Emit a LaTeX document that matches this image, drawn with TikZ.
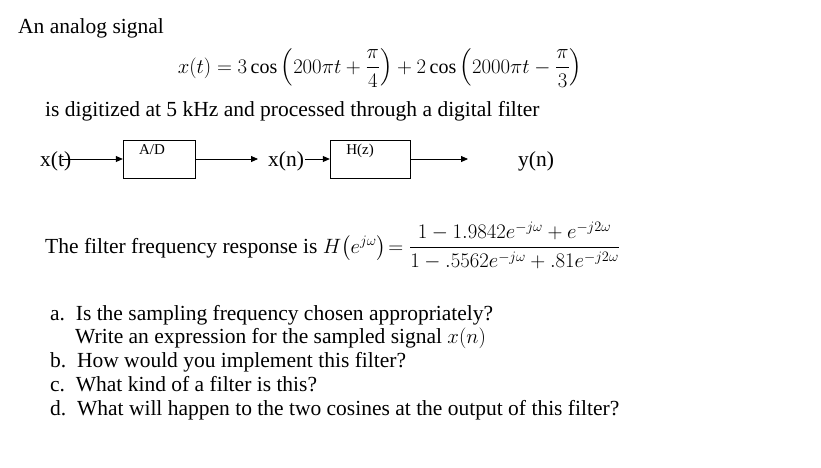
\documentclass[tikz,border=0pt]{standalone}
\usepackage{amsmath}
\usepackage{fontspec}
\setmainfont{Liberation Serif}
\usetikzlibrary{arrows.meta}
\begin{document}
\begin{tikzpicture}[x=1pt,y=-1pt,
 t/.style={anchor=base west,inner sep=0pt,font=\fontsize{21.5}{24}\selectfont},
 blk/.style={draw,minimum width=72pt,minimum height=38pt,inner sep=0pt},
 arr/.style={-{Triangle[length=7pt,width=6pt]},line width=0.8pt}]
\useasboundingbox (0,0) rectangle (821,467);
\node[t] (title) at (18,33) {An analog signal};
\node[anchor=base,inner sep=0pt,font=\fontsize{20}{22}\selectfont] (xt) at (380,73)
 {$x(t)=3\cos\left(200\pi t+\dfrac{\pi}{4}\right)+2\cos\left(2000\pi t-\dfrac{\pi}{3}\right)$};
\node[t] (dig) at (45,116) {is digitized at 5 kHz and processed through a digital filter};
\node[t] (in) at (40,166) {x(t)};
\node[blk] (ad) at (159,159) {};
\node[anchor=north,font=\fontsize{15}{18}\selectfont,inner sep=0pt] (adl) at (152,144) {A/D};
\node[t] (xn) at (268,166) {x(n)};
\node[blk,minimum width=80pt] (hz) at (370,159) {};
\node[anchor=north,font=\fontsize{15}{18}\selectfont,inner sep=0pt] (hzl) at (360,144) {H(z)};
\node[t] (yn) at (518,166) {y(n)};
\coordinate (a1) at (62,159);
\coordinate (a2) at (258,159);
\coordinate (a3) at (305,159);
\coordinate (a4) at (468,159);
\draw[arr] (a1) -- (ad.west);
\draw[arr] (ad.east) -- (a2);
\draw[arr] (a3) -- (hz.west);
\draw[arr] (hz.east) -- (a4);
\node[t] (fr) at (45,253) {The filter frequency response is
 {\fontsize{20}{22}\selectfont$H\!\left(e^{j\omega}\right)\!=\dfrac{1-1.9842e^{-j\omega}+e^{-j2\omega}}{1-.5562e^{-j\omega}+.81e^{-j2\omega}}$}};
\node[t] (qa) at (50,320) {a.\ \ Is the sampling frequency chosen appropriately?};
\node[t] (qa2) at (75,343) {Write an expression for the sampled signal $x(n)$};
\node[t] (qb) at (50,367) {b.\ \ How would you implement this filter?};
\node[t] (qc) at (50,391) {c.\ \ What kind of a filter is this?};
\node[t] (qd) at (50,415) {d.\ \ What will happen to the two cosines at the output of this filter?};
\end{tikzpicture}
\end{document}
